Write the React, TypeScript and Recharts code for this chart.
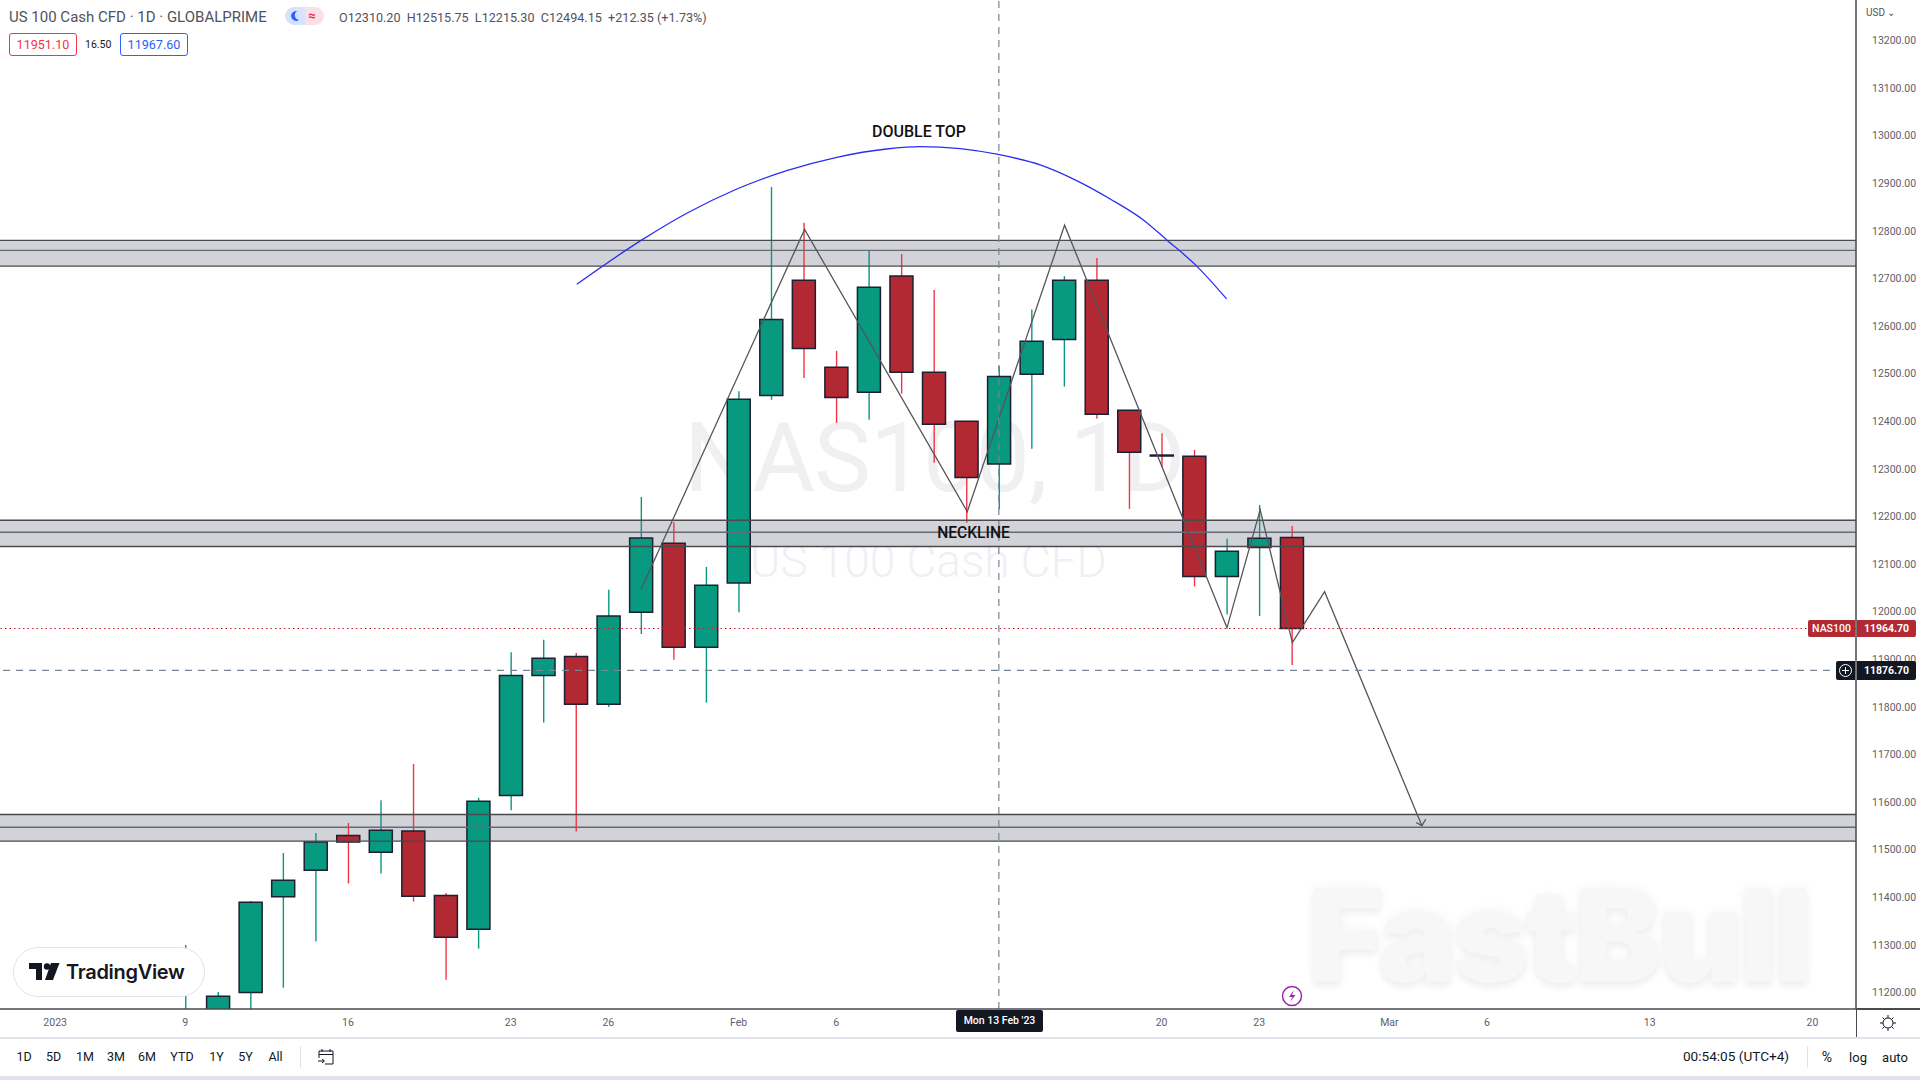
import React from "react";
import { ComposedChart, Bar, Line, Cell, XAxis, YAxis, ReferenceArea, ReferenceLine } from "recharts";

const candleIndex = [0,1,2,3,4,5,6,7,8,9,10,11,12,13,14,15,16,17,18,19,20,21,22,23,24,25,26,27,28,29,30,31,32,33,34];
const opens = [11120,11100,11200,11401,11457,11530,11494.5,11539,11404,11333,11614,11866,11906,11805.5,11999,12144,11925,12060.5,12454,12696,12513.5,12461,12705,12503,12400,12310.2,12499,12572,12696,12423,12329,12326.5,12074,12135,12156];
const highs = [11300,11201,11392,11493,11535,11556,11604,11680,11409,11609,11915,11941,11913,12046,12241,12188,12094,12463,12892,12817,12548,12758,12751.5,12676,12400,12515.75,12635,12705,12743,12423,12375,12340,12153,12224,12180];
const lows = [11100,11090,11150,11210,11307,11429,11450,11391,11227,11292,11583,11767,11538,11800,11953,11899,11809,11999,12445,12491,12396.5,12403,12458,12313,12187,12215.3,12342.5,12473,12405.5,12216,12304,12053,11994,11991,11888];
const closes = [11150,11192,11389.5,11436,11516,11516,11541,11402,11316,11602,11866,11902,11805.5,11991,12155,11925,12055.5,12446,12614,12553,12450,12681.5,12503,12394,12282,12494.15,12568,12696,12415,12335,12327,12074,12127,12154,11964.7];

const priceTicks = [11200,11300,11400,11500,11600,11700,11800,11900,12000,12100,12200,12300,12400,12500,12600,12700,12800,12900,13000,13100,13200];
const timeTickIndex = [-4,0,5,10,13,17,20,30,33,37,40,45,50];
const timeTickLabels = ["2023","9","16","23","26","Feb","6","20","23","Mar","6","13","20"];

const zigX = [14,19.03,24.03,27.02,32.01,33.03,34.02,35.01,38];
const zigP = [12046,12803,12210,12812,11966,12214,11935,12042,11550.5];
const headX = [37.82,38,38.12];
const headP = [11557,11550.5,11564];
const arcX = [12.03,14.03,15.41,16.95,18.48,20.02,21.55,22.58,23.81,25.02,26.27,27.39,28.42,29.44,30.16,31.08,32];
const arcP = [12687.8,12781,12837,12888,12926.5,12954.6,12972,12977,12972.7,12960,12938.5,12905.5,12867,12823,12781,12726,12657];

const bands = [[12726,12759,12780],[12137,12167,12192],[11518,11547,11574]];
const lastPrice = 11964.7;
const crossPrice = 11876.7;
const crossIndex = 25;

const GREEN = "#089981";
const RED = "#b22833";
const WICK_RED = "#f23645";
const OUTLINE = "#1c2030";
const FONT = "Roboto, 'Liberation Sans', sans-serif";

const table = candleIndex.map((x, i) => ({
  x,
  wick: [lows[i], highs[i]],
  body: [Math.min(opens[i], closes[i]), Math.max(opens[i], closes[i])],
  up: closes[i] >= opens[i],
}));
const zigData = zigX.map((x, i) => ({ x, zig: zigP[i] }));
const headData = headX.map((x, i) => ({ x, head: headP[i] }));
const arcData = arcX.map((x, i) => ({ x, arc: arcP[i] }));

const XDOMAIN: [number, number] = [-5.695, 51.34];
const YDOMAIN: [number, number] = [11165.3, 13285];

const abs = (left: number, top: number, extra: React.CSSProperties = {}): React.CSSProperties => ({
  position: "absolute",
  left,
  top,
  whiteSpace: "nowrap",
  fontFamily: FONT,
  ...extra,
});

const centerText = (text: string, cx: number, cy: number, size: number, color: string, weight = 400) => (
  <div key={text + cx} style={abs(cx, cy, { transform: "translate(-50%,-50%)", fontSize: size, color, fontWeight: weight, lineHeight: 1 })}>{text}</div>
);

const rangeButtons: [string, number][] = [["1D",24],["5D",53.6],["1M",85],["3M",116],["6M",147],["YTD",182],["1Y",216.5],["5Y",245.5],["All",275.5]];

export default function App() {
  const labelOf = (v: number) => timeTickLabels[timeTickIndex.indexOf(v)] ?? "";
  return (
    <div style={{ position: "absolute", left: 0, top: 0, width: 1920, height: 1080, background: "#fff", overflow: "hidden" }}>
      <div style={abs(684, 410, { fontSize: 96, color: "#f0f0f2", lineHeight: "96px", fontWeight: 400, letterSpacing: -1 })}>NAS100, 1D</div>
      <div style={abs(750, 534, { fontSize: 46, color: "#f0f0f2", lineHeight: "54px", fontWeight: 300 })}>US 100 Cash CFD</div>
      <div style={abs(1308, 860, { fontSize: 129, fontWeight: 900, color: "#f7f7f7", lineHeight: "150px", letterSpacing: -3, fontFamily: "Inter, sans-serif", textShadow: "0 4px 6px #efefef, 0 0 14px #f4f4f4" })}>FastBull</div>

      <div style={{ position: "absolute", left: 0, top: 0 }}>
        <ComposedChart width={1920} height={1037} data={table} margin={{ top: 0, right: 0, bottom: 0, left: 0 }}>
          <XAxis xAxisId="main" type="number" dataKey="x" domain={XDOMAIN} allowDataOverflow ticks={timeTickIndex} interval={0} tickFormatter={labelOf} height={28} tickLine={false} axisLine={{ stroke: "#4a4a4f", strokeWidth: 1.5 }} tick={{ fontSize: 10.5, fill: "#5d606b", fontFamily: FONT }} tickMargin={4} />
          <XAxis xAxisId="overlay" type="number" dataKey="x" domain={XDOMAIN} allowDataOverflow hide height={0} />
          <XAxis xAxisId="wick" type="number" dataKey="x" domain={XDOMAIN} allowDataOverflow hide height={0} />
          <YAxis orientation="right" width={64} domain={YDOMAIN} allowDataOverflow ticks={priceTicks} interval={0} tickFormatter={(v: number) => v.toFixed(2)} tickLine={false} axisLine={{ stroke: "#4a4a4f", strokeWidth: 1.5 }} tick={{ fontSize: 10.5, fill: "#5d606b", fontFamily: FONT }} tickMargin={10} />

          {bands.map(([lo, mid, hi]) => (
            <ReferenceArea key={lo} xAxisId="main" y1={lo} y2={hi} fill="#d1d3d9" fillOpacity={1} stroke="none" />
          ))}
          {bands.flat().map((p, i) => (
            <ReferenceLine key={p} xAxisId="main" y={p} stroke={i % 3 === 1 ? "#666a78" : "#4a4a4f"} strokeWidth={1.4} />
          ))}
          <Line xAxisId="overlay" data={arcData} dataKey="arc" type="monotone" stroke="#2a2ef0" strokeWidth={1.3} dot={false} activeDot={false} isAnimationActive={false} />
          <Line xAxisId="overlay" data={zigData} dataKey="zig" type="linear" stroke="#55555a" strokeWidth={1.3} dot={false} activeDot={false} isAnimationActive={false} />
          <Line xAxisId="overlay" data={headData} dataKey="head" type="linear" stroke="#55555a" strokeWidth={1.3} dot={false} activeDot={false} isAnimationActive={false} />
          <Bar xAxisId="wick" dataKey="wick" barSize={1.4} isAnimationActive={false}>
            {table.map((d) => <Cell key={d.x} fill={d.up ? GREEN : WICK_RED} />)}
          </Bar>
          <Bar xAxisId="main" dataKey="body" barSize={23} stroke={OUTLINE} strokeWidth={1.5} isAnimationActive={false}>
            {table.map((d) => <Cell key={d.x} fill={d.up ? GREEN : RED} stroke={OUTLINE} />)}
          </Bar>
          <ReferenceLine xAxisId="main" y={lastPrice} stroke="#c8202f" strokeWidth={1.2} strokeDasharray="1.5 3" />
          <ReferenceLine xAxisId="main" y={crossPrice} stroke="#758696" strokeWidth={1.2} strokeDasharray="7 6" />
          <ReferenceLine xAxisId="main" x={crossIndex} stroke="#758696" strokeWidth={1.2} strokeDasharray="7 6" />
        </ComposedChart>
      </div>

      {/* chart frame */}
      <div style={{ position: "absolute", left: 1855.5, top: 1009, width: 1.5, height: 28, background: "#4a4a4f" }} />
      <div style={{ position: "absolute", left: 1856, top: 1008.3, width: 64, height: 1.5, background: "#4a4a4f" }} />
      <div style={{ position: "absolute", left: 0, top: 1037, width: 1920, height: 1.5, background: "#e0e3eb" }} />
      <div style={{ position: "absolute", left: 0, top: 1076, width: 1920, height: 4, background: "#e0e3eb" }} />

      {/* header */}
      <div style={abs(9, 8, { fontSize: 15, color: "#50535e", lineHeight: "18px" })}>US 100 Cash CFD · 1D · GLOBALPRIME</div>
      <div style={{ position: "absolute", left: 285, top: 7, width: 39, height: 18, borderRadius: 9, overflow: "hidden", display: "flex" }}>
        <div style={{ width: 20, background: "#d6e2ff" }} />
        <div style={{ width: 19, background: "#fbdfe7" }} />
      </div>
      <svg style={{ position: "absolute", left: 289, top: 10 }} width="12" height="12" viewBox="0 0 12 12"><path d="M8 1a5 5 0 1 0 2 9A5 5 0 0 1 8 1z" fill="#2962ff" /></svg>
      <div style={abs(308, 7, { fontSize: 13, color: "#e91e63", lineHeight: "18px", fontWeight: 700 })}>≈</div>
      <div style={abs(339, 9, { fontSize: 12.6, color: "#50535e", lineHeight: "18px" })}>O12310.20&nbsp; H12515.75&nbsp; L12215.30&nbsp; C12494.15&nbsp; +212.35 (+1.73%)</div>
      <div style={{ ...abs(9, 33), width: 68, height: 23, boxSizing: "border-box", border: "1px solid #f23645", borderRadius: 3, color: "#f23645", fontSize: 12.6, lineHeight: "21px", textAlign: "center" }}>11951.10</div>
      <div style={abs(85, 37, { fontSize: 10.5, color: "#131722", lineHeight: "16px" })}>16.50</div>
      <div style={{ ...abs(120, 33), width: 68, height: 23, boxSizing: "border-box", border: "1px solid #2962ff", borderRadius: 3, color: "#2962ff", fontSize: 12.6, lineHeight: "21px", textAlign: "center" }}>11967.60</div>
      <div style={abs(1866, 6, { fontSize: 10, color: "#50535e", lineHeight: "14px" })}>USD ⌄</div>

      {/* annotations */}
      {centerText("DOUBLE TOP", 919, 132, 16, "#111", 500)}
      {centerText("NECKLINE", 973.5, 534, 15.6, "#111", 500)}

      {/* price labels */}
      <div style={{ ...abs(1808, 620), width: 47, height: 17, background: RED, color: "#fff", fontSize: 10.5, fontWeight: 500, lineHeight: "17px", textAlign: "center", borderRadius: "2px 0 0 2px" }}>NAS100</div>
      <div style={{ ...abs(1857, 620), width: 59, height: 17, background: RED, color: "#fff", fontSize: 10.5, fontWeight: 700, lineHeight: "17px", textAlign: "center", borderRadius: "0 2px 2px 0" }}>11964.70</div>
      <div style={{ ...abs(1836, 661), width: 19, height: 19, background: "#131722", borderRadius: "2px 0 0 2px" }} />
      <svg style={{ position: "absolute", left: 1838, top: 663 }} width="15" height="15" viewBox="0 0 15 15"><circle cx="7.5" cy="7.5" r="6" fill="none" stroke="#fff" strokeWidth="1" /><path d="M7.5 4v7M4 7.5h7" stroke="#fff" strokeWidth="1" /></svg>
      <div style={{ ...abs(1857, 661), width: 59, height: 19, background: "#131722", color: "#fff", fontSize: 10.5, fontWeight: 700, lineHeight: "19px", textAlign: "center", borderRadius: "0 2px 2px 0" }}>11876.70</div>
      <div style={{ ...abs(956, 1010), width: 87, height: 22, background: "#131722", color: "#fff", fontSize: 10.5, fontWeight: 500, lineHeight: "22px", textAlign: "center", borderRadius: 2 }}>Mon 13 Feb '23</div>

      {/* lightning */}
      <svg style={{ position: "absolute", left: 1281, top: 985 }} width="22" height="22" viewBox="0 0 22 22"><circle cx="11" cy="11" r="9.5" fill="#fff" stroke="#9c27b0" strokeWidth="1.5" /><path d="M13 5l-5 7h3.5L9 17l5.5-7H11z" fill="#9c27b0" /></svg>

      {/* logo */}
      <div style={{ position: "absolute", left: 12.5, top: 947, width: 192, height: 50, boxSizing: "border-box", background: "#fff", border: "1.5px solid #e0e3eb", borderRadius: 25 }} />
      <svg style={{ position: "absolute", left: 29, top: 963 }} width="31" height="18" viewBox="0 0 31 18"><path d="M0 0h13v17H7V6H0z" fill="#131722" /><circle cx="18" cy="3.5" r="3.2" fill="#131722" /><path d="M22 0h8.5L24 17h-8z" fill="#131722" /></svg>
      <div style={abs(66, 958, { fontSize: 20, fontWeight: 600, color: "#131722", lineHeight: "28px", fontFamily: "Inter, sans-serif", letterSpacing: -0.3 })}>TradingView</div>

      {/* bottom toolbar */}
      {rangeButtons.map(([t, cx]) => centerText(t, cx, 1057, 12.5, "#131722"))}
      <div style={{ position: "absolute", left: 300, top: 1046, width: 1, height: 22, background: "#e0e3eb" }} />
      <svg style={{ position: "absolute", left: 317, top: 1048 }} width="18" height="18" viewBox="0 0 18 18" fill="none" stroke="#131722" strokeWidth="1"><path d="M2 10V3h14v13H8M2 6.5h14M5 1v3M13 1v3M1 13h6M5 11l2.5 2L5 15" /></svg>
      {centerText("00:54:05 (UTC+4)", 1736, 1057, 13.6, "#131722")}
      <div style={{ position: "absolute", left: 1807, top: 1046, width: 1, height: 22, background: "#e0e3eb" }} />
      {centerText("%", 1827, 1057, 14, "#131722")}
      {centerText("log", 1858, 1057, 13, "#131722")}
      {centerText("auto", 1895, 1057, 13, "#131722")}
      <svg style={{ position: "absolute", left: 1880, top: 1015 }} width="16" height="16" viewBox="0 0 16 16" fill="none" stroke="#131722" strokeWidth="1"><circle cx="8" cy="8" r="5" /><path d="M8 0v3M8 13v3M0 8h3M13 8h3M2.5 2.5l2 2M11.5 11.5l2 2M13.5 2.5l-2 2M4.5 11.5l-2 2" /></svg>
    </div>
  );
}
